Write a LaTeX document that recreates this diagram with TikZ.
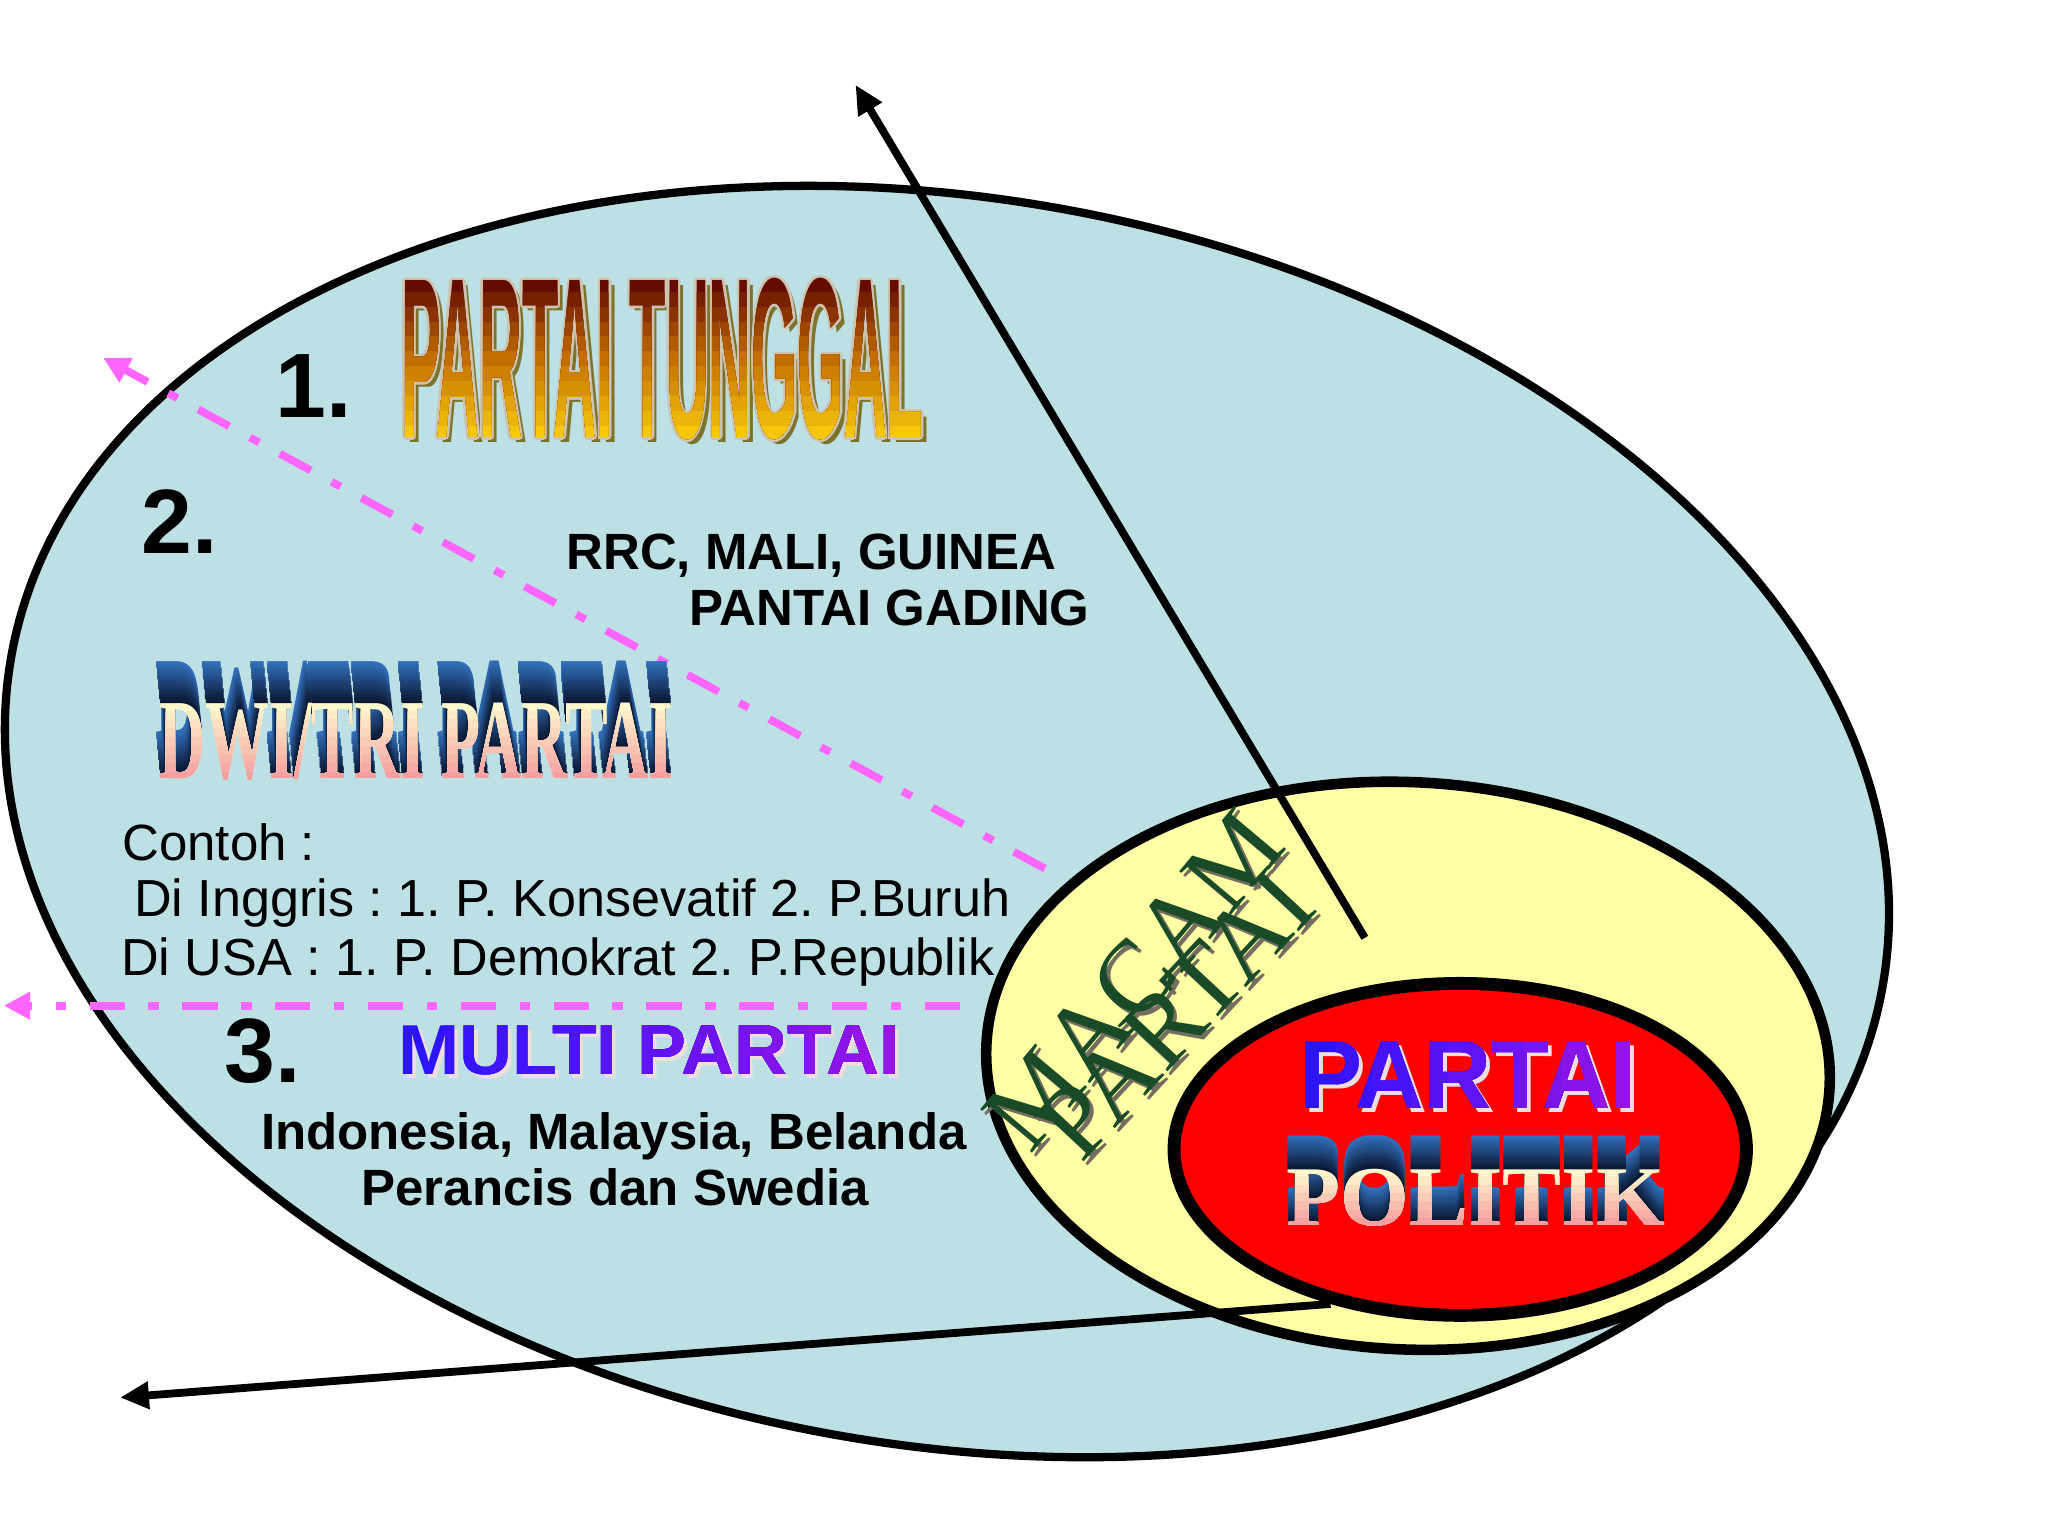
\documentclass[tikz,border=0pt]{standalone}
\usepackage{fontspec}
\setmainfont{Liberation Sans}
\newfontfamily\serf{Liberation Serif}
\usetikzlibrary{shapes.geometric,arrows.meta,calc}
\definecolor{bgblue}{RGB}{188,224,227}
\definecolor{ylw}{RGB}{255,255,166}
\definecolor{pnk}{RGB}{255,102,255}
\definecolor{brownT}{RGB}{100,12,0}
\definecolor{orangeM}{RGB}{195,110,0}
\definecolor{goldB}{RGB}{245,198,10}
\definecolor{tanO}{RGB}{205,195,175}
\definecolor{oliveS}{RGB}{125,115,45}
\definecolor{creamT}{RGB}{255,248,205}
\definecolor{pinkB}{RGB}{245,160,160}
\definecolor{navyN}{RGB}{8,18,42}
\definecolor{blueF}{RGB}{50,110,185}
\definecolor{blueL}{RGB}{45,20,255}
\definecolor{violR}{RGB}{150,20,230}
\definecolor{shadW}{RGB}{238,222,222}
\definecolor{greenM}{RGB}{25,75,40}
\definecolor{grayM}{RGB}{115,110,95}

\newcommand\myfs[1]{\fontsize{#1pt}{#1pt}\selectfont}
\newcommand\txtPT{\bfseries\myfs{49.7}\scalebox{0.26}[1]{PARTAI TUNGGAL}}
\newcommand\txtDW{\serf\bfseries\myfs{24.9}\scalebox{0.557}[1]{DWI/TRI PARTAI}}
\newcommand\txtPO{\serf\bfseries\myfs{18.5}\scalebox{1.04}[1]{POLITIK}}
\newcommand\txtMP{\bfseries\myfs{15.4}\scalebox{1.037}[1]{MULTI PARTAI}}
\newcommand\txtPR{\bfseries\myfs{21.1}\scalebox{0.975}[1]{PARTAI}}

% vertical 3-stop gradient text: name, pos, content, top, middle, bottom, steps
\newcommand\vgradtext[7]{%
  \node[inner sep=0, text=#4] (#1) at #2 {#3};
  \foreach \k in {1,...,#7}{%
    \pgfmathtruncatemacro\mx{round(200*\k/#7)}%
    \ifnum\mx>100 \pgfmathtruncatemacro\my{\mx-100}\edef\cc{#6!\my!#5}\else\edef\cc{#5!\mx!#4}\fi
    \begin{scope}
      \clip ($(#1.north west)!{\k/(#7+1)}!(#1.south west)+(-40,0)$) rectangle ($(#1.south east)+(40,40)$);
      \node[inner sep=0, text=\cc] (#1-\k) at (#1.center) {#3};
    \end{scope}
  }%
}
% horizontal gradient text: name, pos, content, left colour, right colour, steps
\newcommand\hgradtext[6]{%
  \node[inner sep=0, text=#4] (#1) at #2 {#3};
  \foreach \k in {1,...,#6}{%
    \pgfmathtruncatemacro\mx{round(100*\k/#6)}%
    \begin{scope}
      \clip ($(#1.north west)!{\k/(#6+1)}!(#1.north east)+(0,-40)$) rectangle ($(#1.south east)+(40,40)$);
      \node[inner sep=0, text=#5!\mx!#4] (#1-\k) at (#1.center) {#3};
    \end{scope}
  }%
}

\begin{document}
\begin{tikzpicture}[x=0.01cm,y=-0.01cm,
  blackarrow/.style={line width=1.7pt,-{Triangle[length=0.22cm,width=0.2cm]}},
  pinkarrow/.style={draw=pnk,line width=1.7pt,dash pattern=on 0.27cm off 0.18cm on 0.08cm off 0.18cm,-{Triangle[length=0.2cm,width=0.2cm]}},
  txt/.style={inner sep=0}]
\useasboundingbox (0,0) rectangle (1568,1176);
\fill[white] (0,0) rectangle (1568,1176);

% ellipses
\node[ellipse,draw,fill=bgblue,line width=1.8pt,minimum width=14.54cm,minimum height=9.54cm,inner sep=0,rotate=-9.94] (big) at (725,629) {};
\node[ellipse,draw,fill=ylw,line width=2.3pt,minimum width=6.46cm,minimum height=4.34cm,inner sep=0,rotate=-3] (yel) at (1078,816) {};
\node[ellipse,draw,fill=red,line width=2.8pt,minimum width=4.38cm,minimum height=2.54cm,inner sep=0] (rd) at (1118,880) {};

% connectors
\coordinate (a1s) at (1045,718);
\coordinate (a1e) at (655,65);
\coordinate (a2e) at (92,1070);
\coordinate (p1s) at (800,665);
\coordinate (p1e) at (79,274);
\coordinate (p2s) at (735,770);
\coordinate (p2e) at (3,770);
\draw[blackarrow] (a1s) -- (a1e);
\draw[blackarrow] (rd.230) -- (a2e);
\draw[pinkarrow] (p1s) -- (p1e);
\draw[pinkarrow] (p2s) -- (p2e);

% numbers
\node[txt,anchor=base west,font=\bfseries\myfs{19.9}] (n1) at (210,320) {1.};
\node[txt,anchor=base west,font=\bfseries\myfs{19.9}] (n2) at (108,424) {2.};
\node[txt,anchor=base west,font=\bfseries\myfs{19.9}] (n3) at (171,829) {3.};

% plain texts
\node[txt,anchor=base west,font=\bfseries\myfs{11.1}\frenchspacing] (rrc) at (433,436) {RRC, MALI, GUINEA};
\node[txt,anchor=base east,font=\bfseries\myfs{11.1}\frenchspacing] (pgd) at (835,479) {PANTAI GADING};
\node[txt,anchor=base west,font=\myfs{11.1}\frenchspacing] (ct0) at (93,659) {Contoh :};
\node[txt,anchor=base west,font=\myfs{11.35}\frenchspacing] (ct1) at (102,702) {Di Inggris : 1. P. Konsevatif 2. P.Buruh};
\node[txt,anchor=base west,font=\myfs{11.35}\frenchspacing] (ct2) at (92,747) {Di USA : 1. P. Demokrat 2. P.Republik};
\node[txt,anchor=base,font=\bfseries\myfs{11.1}\frenchspacing] (ind) at (470,880) {Indonesia, Malaysia, Belanda};
\node[txt,anchor=base,font=\bfseries\myfs{11.1}\frenchspacing] (per) at (471,923) {Perancis dan Swedia};

% PARTAI TUNGGAL (word art)
\node[txt,text=oliveS] (ptS) at (511,279) {\txtPT};
\foreach \dx/\dy [count=\i] in {-2/0,2/0,0/-2,0/2,-1.5/-1.5,1.5/-1.5,-1.5/1.5,1.5/1.5}{
  \node[txt,text=tanO] (ptO\i) at ($(507,275)+(\dx,\dy)$) {\txtPT};
}
\vgradtext{pt}{(507,275)}{\txtPT}{brownT}{orangeM}{goldB}{10}

% DWI/TRI PARTAI
\foreach \k in {16,15,...,1}{
  \pgfmathtruncatemacro\mx{round(100*\k/16)}
  \node[txt,text=blueF!\mx!navyN] (dwE\k) at ($(319,568)+(-0.2*\k,-2*\k)$) {\txtDW};
}
\vgradtext{dw}{(319,568)}{\txtDW}{creamT}{creamT!50!pinkB}{pinkB}{8}

% MULTI PARTAI
\node[txt,text=shadW] (mpS) at (500,807) {\txtMP};
\hgradtext{mp}{(497,804)}{\txtMP}{blueL}{violR}{10}

% PARTAI (red)
\node[txt,text=shadW] (prS) at (1127,826) {\txtPR};
\hgradtext{pr}{(1124,823)}{\txtPR}{blueL}{violR}{8}

% POLITIK
\foreach \k in {13,12,...,1}{
  \pgfmathtruncatemacro\mx{round(100*\k/13)}
  \node[txt,text=blueF!\mx!navyN] (poE\k) at ($(1130,917)+(0,-2*\k)$) {\txtPO};
}
\vgradtext{po}{(1130,917)}{\txtPO}{creamT}{creamT!50!pinkB}{pinkB}{6}

% MACAM PARTAI
\node[txt,rotate=50,text=grayM,font=\serf\myfs{22.5}] (mcS) at (871,753) {MACAM};
\node[txt,rotate=47,text=grayM,font=\serf\myfs{22.5}] (mtS) at (903,779) {PARTAI};
\node[txt,rotate=50,text=greenM,font=\serf\myfs{22.5}] (mc) at (868,750) {MACAM};
\node[txt,rotate=47,text=greenM,font=\serf\myfs{22.5}] (mt) at (900,776) {PARTAI};
\end{tikzpicture}
\end{document}
